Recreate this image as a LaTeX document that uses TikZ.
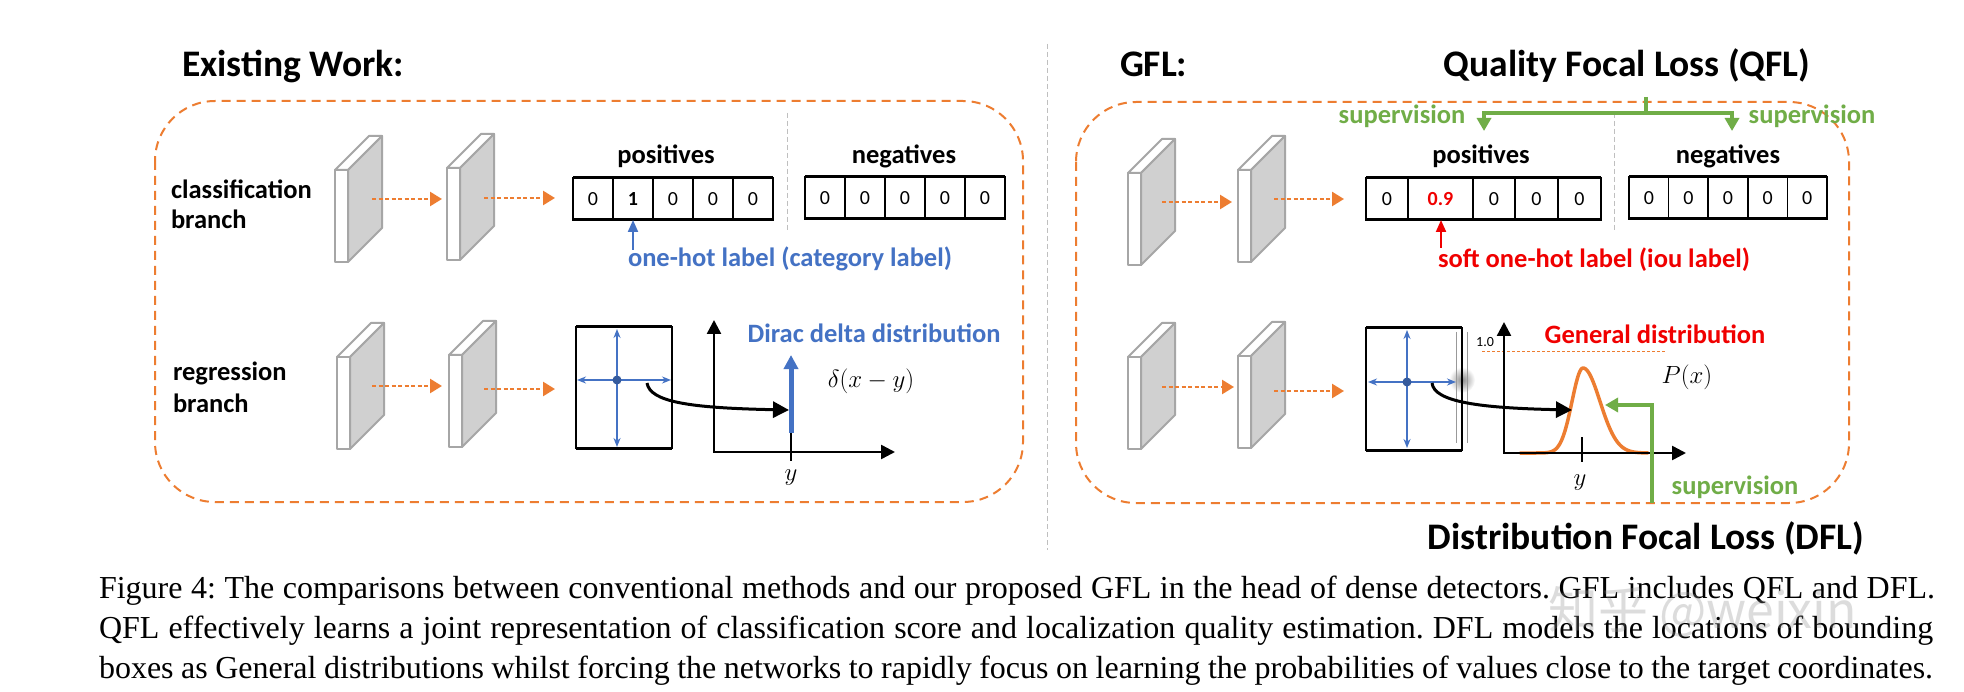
\documentclass[tikz,border=0pt]{standalone}
\usepackage{fontspec}
\setmainfont{Liberation Serif}
\newfontfamily\calibri{Carlito}
\newfontfamily\cjkfont{Noto Sans CJK SC}
\usetikzlibrary{arrows.meta}
\definecolor{orng}{HTML}{ED7D31}
\definecolor{blu}{HTML}{4472C4}
\definecolor{grn}{HTML}{70AD47}
\definecolor{rd}{HTML}{F00000}
\definecolor{plategray}{HTML}{D0D0D0}
\definecolor{plateedge}{HTML}{A6A6A6}
\newcommand{\plate}[2]{%
  \fill[white,draw=plateedge,line width=2pt,line join=round] ({#1},{#2}) -- ({#1+34},{#2-34}) -- ({#1+47},{#2-34}) -- ({#1+13},{#2}) -- cycle;
  \fill[plategray,draw=plateedge,line width=2pt,line join=round] ({#1+13},{#2}) -- ({#1+47},{#2-34}) -- ({#1+47},{#2+58}) -- ({#1+13},{#2+92}) -- cycle;
  \fill[white,draw=plateedge,line width=2pt,line join=round] ({#1},{#2}) rectangle ({#1+13},{#2+92});
}
\tikzset{
  every node/.style={inner sep=0pt, outer sep=0pt},
  title/.style={font=\calibri\bfseries\fontsize{37.5}{44}\selectfont},
  lbl/.style={font=\calibri\bfseries\fontsize{26.5}{30}\selectfont},
  cell/.style={draw, line width=1.5pt, minimum height=42pt, anchor=north west, font=\calibri\fontsize{20}{22}\selectfont},
  region/.style={draw=orng, line width=2pt, dash pattern=on 9pt off 6pt, rounded corners=60pt},
  sepline/.style={draw=black!25, line width=1pt, dash pattern=on 5pt off 3pt},
  oarrow/.style={orng, line width=2.5pt, dash pattern=on 4pt off 2.5pt, -{Triangle[length=12pt,width=14pt]}},
  garrow/.style={grn, line width=3.5pt, -{Triangle[length=13pt,width=14pt]}},
  crossarr/.style={blu, line width=1.6pt, {Stealth[length=9pt,width=7pt]}-{Stealth[length=9pt,width=7pt]}},
  curvearr/.style={black, line width=3pt, -{Triangle[length=16pt,width=16pt]}},
  axes/.style={black, line width=2.5pt, {Triangle[length=14pt,width=14pt]}-{Triangle[length=14pt,width=14pt]}},
  mathlbl/.style={font=\fontsize{29}{32}\selectfont},
  caption/.style={anchor=base west, font=\fontsize{32}{40}\selectfont\frenchspacing},
}
\begin{document}
\begin{tikzpicture}[x=1pt,y=-1pt]
\useasboundingbox (0,0) rectangle (1964,692);
\fill[white] (0,0) rectangle (1964,692);

% separator
\draw[sepline] (1047,44) -- (1047,550);

% titles
\node[title, anchor=base west] (tEx) at (182,77) {Existing Work:};
\node[title, anchor=base west] (tGFL) at (1120,77) {GFL:};
\node[title, anchor=base] (tQFL) at (1627,77) {Quality Focal Loss (QFL)};
\node[title, anchor=base] (tDFL) at (1646,549) {Distribution Focal Loss (DFL)};

% regions
\draw[region] (155,101) rectangle (1023,502);
\draw[region] (1076,102) rectangle (1849,503);

% ================= LEFT =================
\node[lbl, anchor=base west] (lcb1) at (171,199) {classification};
\node[lbl, anchor=base west] (lcb2) at (171,229) {branch};
\node[lbl, anchor=base west] (lrb1) at (173,381) {regression};
\node[lbl, anchor=base west] (lrb2) at (173,412) {branch};

\plate{335}{170}
\plate{447}{168}
\plate{337}{357}
\plate{449}{355}

\coordinate (la1) at (372,199); \coordinate (la2) at (442,199);
\coordinate (la3) at (484,198); \coordinate (la4) at (555,198);
\draw[oarrow] (la1) -- (la2);
\draw[oarrow] (la3) -- (la4);
\coordinate (la5) at (372,386); \coordinate (la6) at (442,386);
\coordinate (la7) at (484,389); \coordinate (la8) at (555,389);
\draw[oarrow] (la5) -- (la6);
\draw[oarrow] (la7) -- (la8);

% cells
\node[cell, minimum width=40pt] (lp1) at (573,178) {0};
\node[cell, minimum width=40pt] (lp2) at (613,178) {\bfseries 1};
\node[cell, minimum width=40pt] (lp3) at (653,178) {0};
\node[cell, minimum width=40pt] (lp4) at (693,178) {0};
\node[cell, minimum width=40pt] (lp5) at (733,178) {0};
\draw[line width=3pt] (lp1.north west) -- (lp5.north east);
\draw[line width=3pt] (lp1.south west) -- (lp5.south east);
\node[cell, minimum width=40pt] (ln1) at (805,177) {0};
\node[cell, minimum width=40pt] (ln2) at (845,177) {0};
\node[cell, minimum width=40pt] (ln3) at (885,177) {0};
\node[cell, minimum width=40pt] (ln4) at (925,177) {0};
\node[cell, minimum width=40pt] (ln5) at (965,177) {0};
\draw[line width=3pt] (ln1.north west) -- (ln5.north east);
\draw[line width=3pt] (ln1.south west) -- (ln5.south east);
\node[lbl, anchor=base] (lpos) at (666,164) {positives};
\node[lbl, anchor=base] (lneg) at (904,164) {negatives};
\draw[sepline] (787,113) -- (787,230);

\node[lbl, blu, anchor=base west] (onehot) at (628,267) {one-hot label (category label)};
\coordinate (oh) at (633,250);
\draw[blu, line width=2pt, -{Triangle[length=12pt,width=10pt]}] (oh) -- (lp2.south);

% regression box
\node[draw, line width=1.5pt, minimum width=96pt, minimum height=121pt] (lbox) at (624,387.5) {};
\draw[line width=3pt] (lbox.north west) -- (lbox.north east);
\draw[line width=3pt] (lbox.south west) -- (lbox.south east);
\coordinate (lvt) at (617,329); \coordinate (lvb) at (617,447);
\coordinate (lhl) at (577,380); \coordinate (lhr) at (671,380);
\draw[crossarr] (lvt) -- (lvb);
\draw[crossarr] (lhl) -- (lhr);
\fill[blu!80!black] (617,380) circle (4.5pt);

% axes
\coordinate (lax1) at (714,320); \coordinate (lax2) at (895,452);
\draw[axes] (lax1) |- (lax2);
\coordinate (ldb) at (791,433); \coordinate (ldt) at (791,355); \coordinate (ltk) at (791,461);
\draw[line width=2pt] (ldb) -- (ltk);
\draw[blu, line width=5pt, -{Triangle[length=14pt,width=14pt]}] (ldb) -- (ldt);
\coordinate (lcs) at (647,383); \coordinate (lce) at (789,410);
\draw[curvearr] (lcs) .. controls (650,402) and (690,408) .. (lce);
\node[mathlbl, anchor=base] (ly) at (791,480) {$y$};
\node[mathlbl, anchor=base] (ldelta) at (871,387) {$\delta(x-y)$};
\node[lbl, blu, anchor=base] (ldirac) at (874,342) {Dirac delta distribution};

% ================= RIGHT =================
\plate{1128}{173}
\plate{1238}{170}
\plate{1128}{357}
\plate{1238}{356}

\coordinate (ra1) at (1162,202); \coordinate (ra2) at (1232,202);
\coordinate (ra3) at (1274,199); \coordinate (ra4) at (1344,199);
\draw[oarrow] (ra1) -- (ra2);
\draw[oarrow] (ra3) -- (ra4);
\coordinate (ra5) at (1162,387); \coordinate (ra6) at (1234,387);
\coordinate (ra7) at (1274,391); \coordinate (ra8) at (1344,391);
\draw[oarrow] (ra5) -- (ra6);
\draw[oarrow] (ra7) -- (ra8);

\node[cell, minimum width=42pt] (rp1) at (1366,178) {0};
\node[cell, minimum width=65pt, text=rd] (rp2) at (1408,178) {\bfseries 0.9};
\node[cell, minimum width=42pt] (rp3) at (1473,178) {0};
\node[cell, minimum width=43pt] (rp4) at (1515,178) {0};
\node[cell, minimum width=43pt] (rp5) at (1558,178) {0};
\draw[line width=3pt] (rp1.north west) -- (rp5.north east);
\draw[line width=3pt] (rp1.south west) -- (rp5.south east);
\node[cell, minimum width=39.6pt] (rn1) at (1629,177) {0};
\node[cell, minimum width=39.6pt] (rn2) at (1668.6,177) {0};
\node[cell, minimum width=39.6pt] (rn3) at (1708.2,177) {0};
\node[cell, minimum width=39.6pt] (rn4) at (1747.8,177) {0};
\node[cell, minimum width=39.6pt] (rn5) at (1787.4,177) {0};
\draw[line width=3pt] (rn1.north west) -- (rn5.north east);
\draw[line width=3pt] (rn1.south west) -- (rn5.south east);
\node[lbl, anchor=base] (rpos) at (1481,164) {positives};
\node[lbl, anchor=base] (rneg) at (1728,164) {negatives};
\draw[sepline] (1614,113) -- (1614,230);

\node[lbl, rd, anchor=base west] (softoh) at (1438,268) {soft one-hot label (iou label)};
\coordinate (soh) at (1441,248);
\draw[rd, line width=2pt, -{Triangle[length=12pt,width=10pt]}] (soh) -- (rp2.south -| soh);

% QFL supervision
\coordinate (qtop) at (1646,97); \coordinate (qmid) at (1646,113);
\coordinate (qsl) at (1484,131); \coordinate (qsr) at (1732,131);
\draw[grn, line width=3.5pt] (qtop) -- (qmid);
\draw[garrow] (qmid) -| (qsl);
\draw[garrow] (qmid) -| (qsr);
\node[lbl, grn, anchor=base] (qsupl) at (1402,124) {supervision};
\node[lbl, grn, anchor=base] (qsupr) at (1812,124) {supervision};

% regression box right
\shade[inner color=black!45, outer color=white] (1462,380) circle (13pt);
\draw[black!40, line width=1pt] (1456,332) -- (1456,443);
\draw[black!40, line width=1pt] (1467,332) -- (1467,443);
\node[draw, line width=1.5pt, minimum width=96pt, minimum height=122pt] (rbox) at (1414,389) {};
\draw[line width=3pt] (rbox.north west) -- (rbox.north east);
\draw[line width=3pt] (rbox.south west) -- (rbox.south east);
\coordinate (rvt) at (1407,330); \coordinate (rvb) at (1407,448);
\coordinate (rhl) at (1368,382); \coordinate (rhr) at (1456,382);
\draw[crossarr] (rvt) -- (rvb);
\draw[crossarr] (rhl) -- (rhr);
\fill[blu!80!black] (1407,382) circle (4.5pt);

% distribution axes
\coordinate (rax1) at (1504,322); \coordinate (rax2) at (1686,453);
\coordinate (r10a) at (1482,352); \coordinate (r10b) at (1665,352);
\draw[orng, line width=1pt, dash pattern=on 3pt off 2pt] (r10a) -- (r10b);
\node[font=\calibri\fontsize{14}{15}\selectfont, anchor=base] (r10) at (1485,347) {1.0};
\draw[orng, line width=3.5pt, line cap=round, line join=round]
  plot[domain=-63:0, samples=60] ({1583+\x},{453-85*exp(-(\x/11)^2/2)})
  -- plot[domain=0:65, samples=60] ({1583+\x},{453-85*exp(-(\x/17)^2/2)});
\draw[axes] (rax1) |- (rax2);
\coordinate (rtt) at (1582,437); \coordinate (rtb) at (1582,462);
\draw[line width=2pt] (rtt) -- (rtb);
\coordinate (rcs) at (1432,383); \coordinate (rce) at (1572,410);
\draw[curvearr] (rcs) .. controls (1434,402) and (1480,408) .. (rce);
\coordinate (gb) at (1652,503); \coordinate (gtip) at (1605,405);
\draw[garrow] (gb) |- (gtip);
\node[mathlbl, anchor=base] (ry) at (1580,485) {$y$};
\node[mathlbl, anchor=base] (rpx) at (1687,383) {$P(x)$};
\node[lbl, rd, anchor=base] (rgen) at (1655,344) {General distribution};
\node[lbl, grn, anchor=base] (rsup) at (1735,494) {supervision};

% caption
\node[caption] (cap1) at (99,598) {\makebox[1836pt][s]{Figure 4: The comparisons between conventional methods and our proposed GFL in the head of dense detectors. GFL includes QFL and DFL.}};
\node[caption] (cap2) at (99,638) {\makebox[1834pt][s]{QFL effectively learns a joint representation of classification score and localization quality estimation. DFL models the locations of bounding}};
\node[caption] (cap3) at (99,678) {\makebox[1834pt][s]{boxes as General distributions whilst forcing the networks to rapidly focus on learning the probabilities of values close to the target coordinates.}};
\node[font=\cjkfont\fontsize{50}{50}\selectfont, text=black!45, opacity=0.3, anchor=base west] (wm) at (1548,628) {知乎 @weixin};
\end{tikzpicture}
\end{document}
